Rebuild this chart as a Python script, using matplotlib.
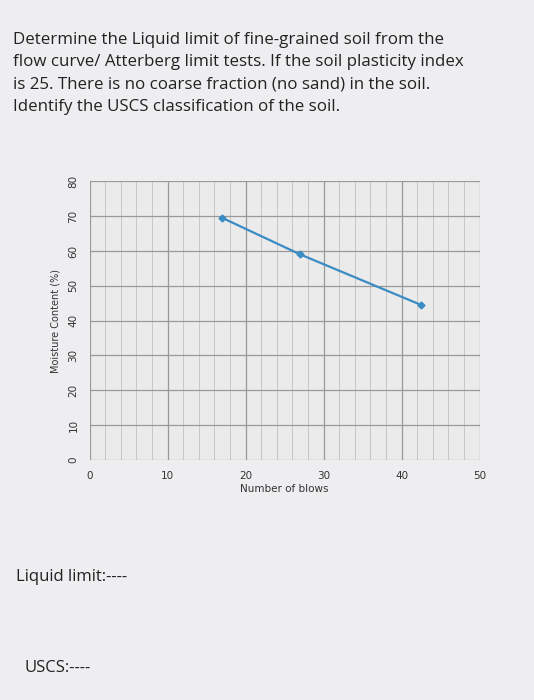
import matplotlib
matplotlib.use("Agg")
import matplotlib.pyplot as plt
import numpy as np

blows = [17, 27, 42.5]
moisture = [69.5, 59, 44.5]
xticks = [0, 10, 20, 30, 40, 50]
yticks = [0, 10, 20, 30, 40, 50, 60, 70, 80]

fig = plt.figure(figsize=(5.34, 7.0), dpi=100)
fig.patch.set_facecolor("#eeeef0")
fig.text(0.025, 0.955, "Determine the Liquid limit of fine-grained soil from the\n"
         "flow curve/ Atterberg limit tests. If the soil plasticity index\n"
         "is 25. There is no coarse fraction (no sand) in the soil.\n"
         "Identify the USCS classification of the soil.",
         fontsize=12.2, va="top", ha="left", color="#222222", linespacing=1.55,
         family="Open Sans")
fig.text(0.03, 0.17, "Liquid limit:----", fontsize=12, color="#222222", family="Open Sans")
fig.text(0.045, 0.04, "USCS:----", fontsize=12, color="#222222", family="Open Sans")

ax = fig.add_axes([0.168, 0.343, 0.73, 0.398])
ax.set_facecolor("#ebebeb")
ax.plot(blows, moisture, color="#3a8cc4", lw=1.6, marker="D", ms=3.5)
ax.set_xlim(0, 50)
ax.set_ylim(0, 80)
ax.set_xticks(xticks)
ax.set_yticks(yticks)
ax.set_xticks(np.arange(0, 51, 2), minor=True)
ax.grid(which="major", color="#999999", lw=0.9)
ax.grid(which="minor", axis="x", color="#c0c0c0", lw=0.6)
for s in ax.spines.values():
    s.set_visible(False)
ax.tick_params(length=0, labelsize=7.5, colors="#333333", pad=8)
ax.tick_params(which="minor", length=0)
for lab in ax.get_yticklabels():
    lab.set_rotation(90)
    lab.set_va("center")
ax.set_xlabel("Number of blows", fontsize=7.5, color="#333333", labelpad=2)
ax.set_ylabel("Moisture Content (%)", fontsize=7, color="#333333", labelpad=6)
fig.savefig("out.png", dpi=100, facecolor=fig.get_facecolor())
